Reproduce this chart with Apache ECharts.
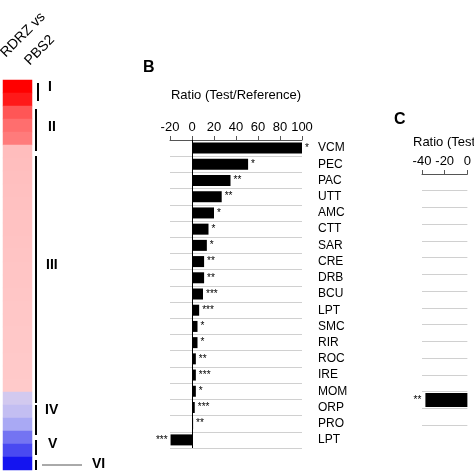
<!DOCTYPE html><html><head><meta charset="utf-8">
<script src="https://cdn.jsdelivr.net/npm/echarts@6/dist/echarts.min.js"></script>
<style>html,body{margin:0;background:#fff}#c{width:474px;height:474px}</style></head><body><div id="c"></div><script>
const bCats=['VCM','PEC','PAC','UTT','AMC','CTT','SAR','CRE','DRB','BCU','LPT','SMC','RIR','ROC','IRE','MOM','ORP','PRO','LPT '];
const bVals=[103,51,35,27,20,15,13.5,11,11,10,6.5,5,5,3.5,3.5,3.5,2.5,1,-19.5];
const bStars=['*','*','**','**','*','*','*','**','**','***','***','*','*','**','***','*','***','**','***'];
const cCats=['c1','c2','c3','c4','c5','c6','c7','c8','c9','c10','c11','c12','c13','c14','c15'];
const cVals=[0,0,0,0,0,0,0,0,0,0,0,0,0,-37,0];
const cStars=['','','','','','','','','','','','','','**',''];
const heatVals=[3,2.8,2.3,2.1,2.0,1.35,1.3,1.28,1.25,1.22,1.2,1.18,1.15,1.12,1.1,1.08,1.06,1.04,1.02,1,1,0.98,0.96,0.95,-0.9,-1.2,-1.6,-2.1,-2.5,-3];
const heatRows=heatVals.map((v,i)=>'r'+i);
const F='Arial, Liberation Sans, sans-serif';
const ch=echarts.init(document.getElementById('c'));
const txt=(x,y,t,o)=>({type:'text',left:x,top:y,style:Object.assign({text:t,font:'bold 14px '+F,fill:'#000'},o||{})});
const vline=(x,y1,y2,w)=>({type:'line',shape:{x1:x,y1:y1,x2:x,y2:y2},style:{stroke:'#000',lineWidth:w||2}});
ch.setOption({
 animation:false,
 textStyle:{fontFamily:F},
 grid:[{left:170,width:132,top:140,height:308},{left:3,width:29,top:80,height:390},{left:422,width:48,top:174,height:251}],
 xAxis:[
  {gridIndex:0,type:'value',position:'top',min:-20,max:100,interval:20,name:'Ratio (Test/Reference)',nameLocation:'middle',nameGap:38,nameTextStyle:{fontSize:13,color:'#000'},axisLabel:{fontSize:13,color:'#000',margin:6},axisLine:{show:true,lineStyle:{color:'#555'}},axisTick:{show:true,length:4},splitLine:{show:false}},
  {gridIndex:1,type:'category',data:['a'],show:false},
  {gridIndex:2,type:'value',position:'top',min:-40,max:0,interval:20,axisLabel:{fontSize:13,color:'#000',margin:6},axisLine:{show:true,lineStyle:{color:'#555'}},axisTick:{show:true,length:4},splitLine:{show:false}}
 ],
 yAxis:[
  {gridIndex:0,type:'category',data:bCats,inverse:true,position:'right',axisLabel:{fontSize:12,color:'#000',margin:16},axisLine:{show:false},axisTick:{show:false},splitLine:{show:true,lineStyle:{color:'#d0d0d0'}}},
  {gridIndex:1,type:'category',data:heatRows,inverse:true,show:false},
  {gridIndex:2,type:'category',data:cCats,inverse:true,position:'right',axisLabel:{show:false},axisLine:{show:false},axisTick:{show:false},splitLine:{show:true,lineStyle:{color:'#d0d0d0'}}}
 ],
 visualMap:{show:false,seriesIndex:1,min:-3,max:3,inRange:{color:['#1414f0','#b4b4f4','#ffe8e8','#ffb8b8','#ff0000']}},
 series:[
  {type:'bar',xAxisIndex:0,yAxisIndex:0,barWidth:11,itemStyle:{color:'#000'},
   data:bVals.map((v,i)=>({value:v,label:{show:true,position:v<0?'left':'right',formatter:bStars[i],fontSize:10,color:'#000',distance:3}})),
   markLine:{silent:true,symbol:'none',label:{show:false},lineStyle:{color:'#000',type:'solid',width:1},data:[{xAxis:0}]}},
  {type:'heatmap',xAxisIndex:1,yAxisIndex:1,data:heatVals.map((v,i)=>[0,i,v])},
  {type:'bar',xAxisIndex:2,yAxisIndex:2,barWidth:14,itemStyle:{color:'#000'},
   data:cVals.map((v,i)=>({value:v,label:{show:!!cStars[i],position:'left',formatter:cStars[i],fontSize:10,color:'#000',distance:4}}))}
 ],
 graphic:[
  txt(143,60,'B',{font:'bold 16px '+F}),
  txt(394,112,'C',{font:'bold 16px '+F}),
  txt(413,136,'Ratio (Test/Reference)',{font:'13px '+F}),
  {type:'text',x:-2,y:50,rotation:Math.PI/4,style:{text:'RDRZ vs',font:'14px '+F,fill:'#000'}},
  {type:'text',x:22,y:58,rotation:Math.PI/4,style:{text:'PBS2',font:'14px '+F,fill:'#000'}},
  vline(38,83,101),vline(36,109,151),vline(36,156,403),vline(36,405,435),vline(36,440,455),vline(36,460,470),
  {type:'line',shape:{x1:42,y1:465,x2:82,y2:465},style:{stroke:'#555',lineWidth:1}},
  txt(48,80,'I'),txt(48,120,'II'),txt(46,258,'III'),txt(45,403,'IV'),txt(48,437,'V'),txt(92,457,'VI')
 ]
});
</script></body></html>
